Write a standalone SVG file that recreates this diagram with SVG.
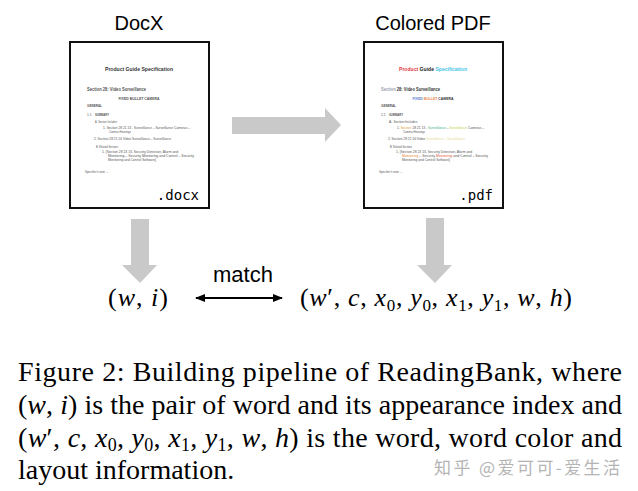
<svg xmlns="http://www.w3.org/2000/svg" width="638" height="491" viewBox="0 0 638 491">
<defs>
<style>
.lbl{font-family:"Liberation Sans",Arial,sans-serif;font-size:20px;fill:#000}
.page{fill:#fff;stroke:#111;stroke-width:2}
.t{font-family:"Liberation Sans",Arial,sans-serif;font-size:3.3px;fill:#555}
.b{font-weight:bold}
.ext{font-family:"DejaVu Sans Mono","Liberation Mono",monospace;font-size:14px;fill:#000}
.big{fill:#c9c9c9}
.math{font-family:"Liberation Serif","DejaVu Serif",serif;font-size:26px;fill:#000}
.cap{font-family:"Liberation Serif","Times New Roman",serif;font-size:28px;fill:#000}
.it{font-style:italic}
.wm{font-family:"Noto Sans CJK SC","Liberation Sans",sans-serif;font-size:17px;fill:#b4b4b4}
</style>
<marker id="ah" viewBox="0 0 10 8" refX="9" refY="4" markerWidth="10" markerHeight="8" markerUnits="userSpaceOnUse" orient="auto-start-reverse">
<path d="M0,0 L10,4 L0,8 z" fill="#000"/>
</marker>
</defs>
<rect width="638" height="491" fill="#fff"/>

<g id="docx">
<text class="lbl" x="139" y="30" text-anchor="middle">DocX</text>
<rect class="page" x="70" y="42" width="139" height="166"/>
<text class="t b" x="139" y="71" text-anchor="middle" style="font-size:5.5px;fill:#333" textLength="68" lengthAdjust="spacingAndGlyphs">Product Guide Specification</text>
<text class="t b" x="87" y="91" textLength="59" lengthAdjust="spacingAndGlyphs" style="font-size:4.5px">Section 28: Video Surveillance</text>
<text class="t b" x="139" y="99.5" text-anchor="middle" textLength="41" lengthAdjust="spacingAndGlyphs">FIXED  BULLET  CAMERA</text>
<text class="t b" x="87" y="106.5" textLength="15" lengthAdjust="spacingAndGlyphs">GENERAL</text>
<text class="t" x="87" y="115.5">1.1</text>
<text class="t b" x="95" y="115.5" textLength="14" lengthAdjust="spacingAndGlyphs">SUMMARY</text>
<text class="t" x="95" y="122.5" textLength="22" lengthAdjust="spacingAndGlyphs">A.  Section Includes</text>
<text class="t" x="103" y="129" textLength="87" lengthAdjust="spacingAndGlyphs">1.  Section 28 21 13 - Surveillance – Surveillance Cameras –</text>
<text class="t" x="109" y="133" textLength="22" lengthAdjust="spacingAndGlyphs">Camera Housings</text>
<text class="t" x="94" y="139.5" textLength="77" lengthAdjust="spacingAndGlyphs">2.  Section 28 21 16 Video Surveillance – Surveillance</text>
<text class="t" x="96" y="148" textLength="22" lengthAdjust="spacingAndGlyphs">B.  Related Sections</text>
<text class="t" x="102" y="153" textLength="76" lengthAdjust="spacingAndGlyphs">1.  [Section 28 23 13, Security Detection, Alarm and</text>
<text class="t" x="108" y="157" textLength="86" lengthAdjust="spacingAndGlyphs">Monitoring – Security Monitoring and Control – Security</text>
<text class="t" x="108" y="161" textLength="48" lengthAdjust="spacingAndGlyphs">Monitoring and Control Software]</text>
<text class="t" x="85" y="173" textLength="24" lengthAdjust="spacingAndGlyphs">Specifier's note ....</text>
<text class="ext" x="199" y="200" text-anchor="end">.docx</text>
</g>

<g id="pdf">
<text class="lbl" x="433" y="30" text-anchor="middle">Colored PDF</text>
<rect class="page" x="364" y="42" width="139" height="166"/>
<text class="t b" x="433" y="71" text-anchor="middle" style="font-size:5.5px" textLength="68" lengthAdjust="spacingAndGlyphs"><tspan fill="#e2373f">Product</tspan> <tspan fill="#222">Guide</tspan> <tspan fill="#3ec3e6">Specification</tspan></text>
<text class="t b" x="381" y="91" textLength="59" lengthAdjust="spacingAndGlyphs" style="font-size:4.5px"><tspan fill="#9aa0b0">Section</tspan> <tspan fill="#333">28: Video Surveillance</tspan></text>
<text class="t b" x="433" y="99.5" text-anchor="middle" textLength="41" lengthAdjust="spacingAndGlyphs"><tspan fill="#5a7fc8">FIXED</tspan>  <tspan fill="#e58a4a">BULLET</tspan>  <tspan fill="#333">CAMERA</tspan></text>
<text class="t b" x="381" y="106.5" textLength="15" lengthAdjust="spacingAndGlyphs" fill="#7a8aa8">GENERAL</text>
<text class="t" x="381" y="115.5" fill="#aaa">1.1</text>
<text class="t b" x="389" y="115.5" textLength="14" lengthAdjust="spacingAndGlyphs">SUMMARY</text>
<text class="t" x="389" y="122.5">A.</text>
<text class="t" x="393.5" y="122.5" fill="#4a7fd0">Section</text>
<text class="t" x="405" y="122.5">Includes</text>
<text class="t" x="397" y="129" textLength="87" lengthAdjust="spacingAndGlyphs">1.  <tspan fill="#e0a040">Section</tspan> 28 21 13 - <tspan fill="#3cb08a">Surveillance</tspan> – <tspan fill="#b8d84a">Surveillance</tspan> Cameras –</text>
<text class="t" x="403" y="133" textLength="22" lengthAdjust="spacingAndGlyphs">Camera Housings</text>
<text class="t" x="388" y="139.5" textLength="77" lengthAdjust="spacingAndGlyphs">2.  Section 28 21 16 Video <tspan fill="#e6d890">Surveillance – Surveillance</tspan></text>
<text class="t" x="390" y="148" textLength="22" lengthAdjust="spacingAndGlyphs">B.  Related Sections</text>
<text class="t" x="396" y="153" textLength="76" lengthAdjust="spacingAndGlyphs">1.  [Section 28 23 13, Security Detection, Alarm and</text>
<text class="t" x="402" y="157" textLength="86" lengthAdjust="spacingAndGlyphs"><tspan fill="#e8893a">Monitoring</tspan> – Security <tspan fill="#e8553a">Monitoring</tspan> and Control – Security</text>
<text class="t" x="402" y="161" textLength="48" lengthAdjust="spacingAndGlyphs">Monitoring and Control Software]</text>
<text class="t" x="379" y="173" textLength="24" lengthAdjust="spacingAndGlyphs">Specifier's note ....</text>
<text class="ext" x="493" y="200" text-anchor="end">.pdf</text>
</g>

<g id="connectors">
<path class="big" d="M232,117 H325 V108 L341,125 L325,142 V134 H232 Z"/>
<path class="big" d="M131,219 H149 V265 H157 L140,283 L122,265 H131 Z"/>
<path class="big" d="M426,218 H444 V265 H452 L435,283 L417,265 H426 Z"/>
<line x1="196" y1="298" x2="282" y2="298" stroke="#000" stroke-width="2.2" marker-start="url(#ah)" marker-end="url(#ah)"/>
<text class="lbl" x="243" y="282" text-anchor="middle" style="font-size:22px">match</text>
</g>

<g id="pair">
<text class="math" x="108" y="306" textLength="60" lengthAdjust="spacing">(<tspan class="it">w</tspan>, <tspan class="it">i</tspan>)</text>
</g>

<g id="tuple">
<text class="math" x="300" y="306" textLength="272" lengthAdjust="spacing">(<tspan class="it">w</tspan>′, <tspan class="it">c</tspan>, <tspan class="it">x</tspan><tspan font-size="17" dy="5">0</tspan><tspan dy="-5">, </tspan><tspan class="it">y</tspan><tspan font-size="17" dy="5">0</tspan><tspan dy="-5">, </tspan><tspan class="it">x</tspan><tspan font-size="17" dy="5">1</tspan><tspan dy="-5">, </tspan><tspan class="it">y</tspan><tspan font-size="17" dy="5">1</tspan><tspan dy="-5">, </tspan><tspan class="it">w</tspan>, <tspan class="it">h</tspan>)</text>
</g>

<g id="caption">
<text class="cap" x="18" y="381" textLength="604" lengthAdjust="spacing">Figure 2:  Building pipeline of ReadingBank, where</text>
<text class="cap" x="18" y="414" textLength="604" lengthAdjust="spacing">(<tspan class="it">w</tspan>, <tspan class="it">i</tspan>) is the pair of word and its appearance index and</text>
<text class="cap" x="18" y="447" textLength="604" lengthAdjust="spacing">(<tspan class="it">w</tspan>′, <tspan class="it">c</tspan>, <tspan class="it">x</tspan><tspan font-size="18" dy="4">0</tspan><tspan dy="-4">, </tspan><tspan class="it">y</tspan><tspan font-size="18" dy="4">0</tspan><tspan dy="-4">, </tspan><tspan class="it">x</tspan><tspan font-size="18" dy="4">1</tspan><tspan dy="-4">, </tspan><tspan class="it">y</tspan><tspan font-size="18" dy="4">1</tspan><tspan dy="-4">, </tspan><tspan class="it">w</tspan>, <tspan class="it">h</tspan>) is the word, word color and</text>
<text class="cap" x="18" y="479">layout information.</text>
<text class="wm" x="434" y="474" textLength="186" lengthAdjust="spacing">知乎 @爱可可-爱生活</text>
</g>
</svg>
